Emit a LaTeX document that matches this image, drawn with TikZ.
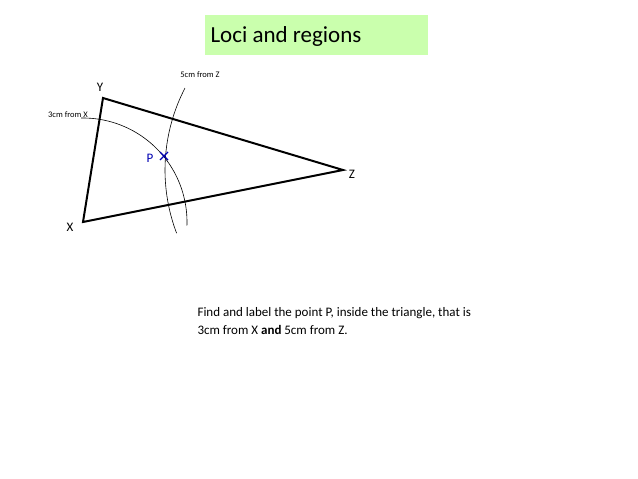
\documentclass[tikz,border=0pt]{standalone}
\usepackage{fontspec}
\setmainfont{Carlito}
\begin{document}
\begin{tikzpicture}[x=1pt,y=-1pt,
  lab/.style={font=\fontsize{13}{15}\selectfont},
  small/.style={font=\fontsize{8.5}{10}\selectfont},
  arcline/.style={draw=black,line width=0.6pt}]
\useasboundingbox (0,0) rectangle (638,479);
\node[fill=green!20!white!85!lime, minimum width=223pt, minimum height=40pt, anchor=north west, inner sep=0pt] (title) at (205,15) {};
\node[font=\fontsize{23}{27}\selectfont, anchor=west] (tt) at (207,36) {Loci and regions};
\coordinate (X) at (83,222);
\coordinate (Y) at (103,98);
\coordinate (Z) at (343,170);
\draw[line width=2pt, line join=miter] (X) -- (Y) -- (Z) -- cycle;
\node[lab] (ly) at (100,87) {Y};
\node[lab] (lx) at (70,227) {X};
\node[lab] (lz) at (352,174) {Z};
\draw[arcline] (X) ++(-91:104) arc[start angle=-91, end angle=2, radius=104];
\draw[arcline] (Z) ++(-152.6:178) arc[start angle=-152.6, end angle=-200.8, radius=178];
\node[small] (l5) at (200,75) {5cm from Z};
\node[small] (l3) at (68,115) {3cm from X};
\node[lab, text=blue!70!black] (lp) at (150,158) {P};
\coordinate (pc) at (164,156);
\draw[blue!70!black, line width=1.4pt] ([shift={(-4,-4)}]pc) -- ([shift={(4,4)}]pc) ([shift={(-4,4)}]pc) -- ([shift={(4,-4)}]pc);
\node[lab, anchor=north west, align=left] (txt) at (194,304) {Find and label the point P, inside the triangle, that is\\[3pt]3cm from X \textbf{and} 5cm from Z.};
\end{tikzpicture}
\end{document}
